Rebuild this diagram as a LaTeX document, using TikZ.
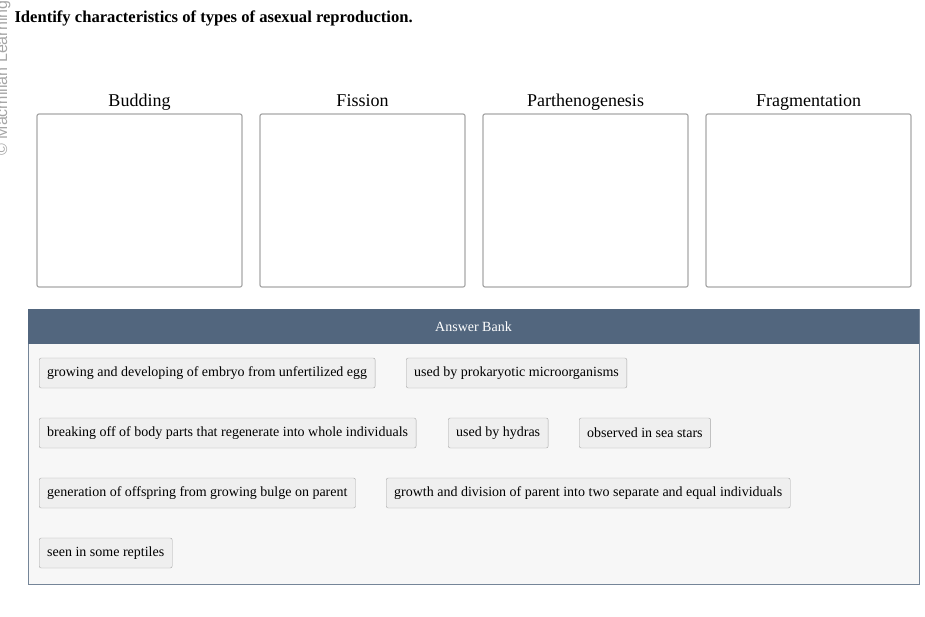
\documentclass[tikz,border=0pt]{standalone}
\usepackage{fontspec}
\setmainfont{Liberation Serif}
\setsansfont{Liberation Sans}
\definecolor{hdr}{HTML}{52667E}
\definecolor{bankbg}{HTML}{F7F7F7}
\definecolor{chipbg}{HTML}{EFEFEF}
\definecolor{boxln}{HTML}{A8A8A8}
\tikzset{
 dropbox/.style={draw=boxln,line width=1.2pt,rounded corners=2pt},
 header/.style={font=\fontsize{18}{20}\selectfont,anchor=base},
 chip/.style={draw=boxln,fill=chipbg,rounded corners=2pt,minimum height=30pt,inner xsep=8pt,anchor=west,font=\fontsize{14}{16}\selectfont},
}
\begin{document}
\begin{tikzpicture}[x=1pt,y=-1pt]
\useasboundingbox (0,0) rectangle (925,616);
\begin{scope}
\clip (0,0) rectangle (925,616);
\node[rotate=90,text=gray!70,font=\sffamily\fontsize{16}{18}\selectfont] (wm) at (3,78) {© Macmillan Learning};
\end{scope}
\node[anchor=west,font=\bfseries\fontsize{16.6}{19}\selectfont] (title) at (11,18) {Identify characteristics of types of asexual reproduction.};
\foreach \x/\t/\n in {37/Budding/b,260/Fission/f,483/Parthenogenesis/p,706/Fragmentation/g}{
 \draw[dropbox] (\x,114) rectangle ++(205,173);
 \node[header] (h\n) at (\x+102.5,106) {\t};
}
\draw[draw=hdr!80,fill=bankbg] (28,309) rectangle (919,584);
\fill[hdr] (28,309) rectangle (919,344);
\node[text=white,font=\fontsize{14}{16}\selectfont] (ab) at (473.5,326.5) {Answer Bank};
\node[chip] (c1) at (39,373) {growing and developing of embryo from unfertilized egg};
\node[chip] (c2) at (406,373) {used by prokaryotic microorganisms};
\node[chip] (c3) at (39,433) {breaking off of body parts that regenerate into whole individuals};
\node[chip] (c4) at (448,433) {used by hydras};
\node[chip] (c5) at (579,433) {observed in sea stars};
\node[chip] (c6) at (39,493) {generation of offspring from growing bulge on parent};
\node[chip] (c7) at (386,493) {growth and division of parent into two separate and equal individuals};
\node[chip] (c8) at (39,553) {seen in some reptiles};
\end{tikzpicture}
\end{document}
